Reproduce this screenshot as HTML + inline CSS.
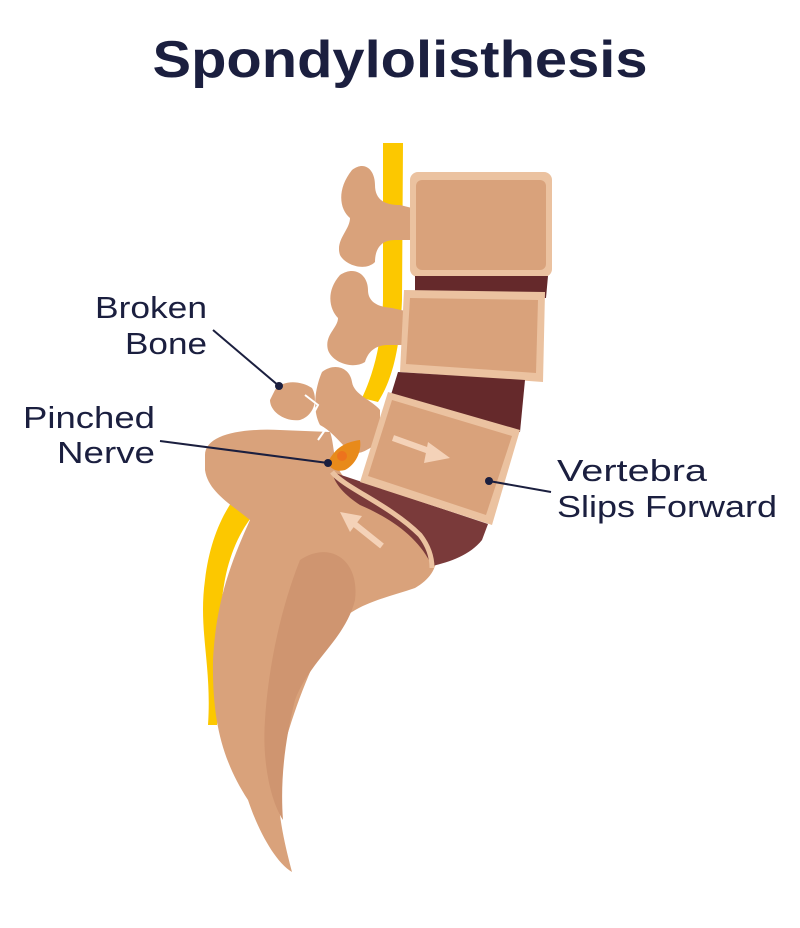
<!DOCTYPE html>
<html><head><meta charset="utf-8"><style>
html,body{margin:0;padding:0;background:#fff;}
svg{display:block;}
text{font-family:"Liberation Sans",sans-serif;fill:#1b1f3f;}
</style></head><body>
<svg width="800" height="928" viewBox="0 0 800 928" xmlns="http://www.w3.org/2000/svg">
<text x="400" y="77" font-size="52" font-weight="bold" text-anchor="middle" textLength="495" lengthAdjust="spacingAndGlyphs">Spondylolisthesis</text>

<!-- lower nerve -->
<path d="M272,468 C240,480 212,520 205,580 C198,630 212,665 208,725 L217,725 C225,670 216,630 224,585 C232,535 258,500 288,488 Z" fill="#fcc800"/>

<!-- sacrum -->
<path d="M205,455 C205,435 240,428 280,430 L330,432 C335,445 332,465 345,478 L430,535 C442,555 438,575 415,588 C380,600 345,605 325,640 C305,680 290,720 278,770 C276,810 285,845 292,872 C275,862 258,830 248,800 C222,760 212,720 213,660 C216,600 232,560 250,520 C232,505 208,492 205,470 Z" fill="#d9a27b"/>
<path d="M300,560 C330,540 360,560 355,600 C345,640 310,660 295,700 C285,740 280,780 283,820 C270,800 262,760 265,720 C268,670 280,610 300,560 Z" fill="#cf9570"/>
<path d="M332,472 L488,524 L482,540 C470,555 450,562 432,566 C420,540 395,520 360,505 C345,495 335,485 332,472 Z" fill="#7a3a3a"/>
<path d="M332,472 C345,488 390,505 420,535 C430,548 432,560 432,568" fill="none" stroke="#ebc2a0" stroke-width="5"/>
<path d="M382,546 L352,522" stroke="#f4d2b8" stroke-width="6"/>
<path d="M340,512 L362,516 L350,532 Z" fill="#f4d2b8"/>

<!-- spinal cord top -->
<path d="M383,143 L403,143 L402,300 C400,350 392,380 378,402 L362,398 C375,370 382,340 383,300 Z" fill="#fcc800"/>

<!-- top vertebra -->
<path d="M352,170 C365,160 375,170 375,185 C375,200 385,205 400,205 L420,210 L420,240 L395,240 C380,240 375,250 375,262 C365,272 345,265 340,255 C335,240 350,230 350,218 C340,210 336,190 352,170 Z" fill="#d9a27b"/>
<rect x="410" y="172" width="142" height="105" rx="8" fill="#ebc2a0"/>
<rect x="416" y="180" width="130" height="90" rx="6" fill="#d9a27b"/>
<path d="M415,276 L548,276 L546,298 L415,294 Z" fill="#65292b"/>
<!-- vertebra 2 -->
<path d="M340,275 C355,265 368,275 368,290 C368,302 378,307 392,308 L410,312 L410,345 L388,345 C375,345 368,352 365,362 C352,370 332,362 328,350 C324,335 338,328 338,318 C330,310 325,292 340,275 Z" fill="#d9a27b"/>
<path d="M404,290 L545,292 L543,382 L400,372 Z" fill="#ebc2a0"/>
<path d="M410,298 L538,300 L536,373 L406,364 Z" fill="#d9a27b"/>
<path d="M398,372 L525,380 L520,432 L390,398 Z" fill="#65292b"/>
<!-- vertebra 3 -->
<path d="M322,372 C335,362 350,368 352,382 C354,395 372,400 380,410 L380,440 C370,450 355,458 348,450 C338,440 330,430 320,425 C312,410 315,388 322,372 Z" fill="#d9a27b"/>
<path d="M388,392 L520,430 L492,525 L360,482 Z" fill="#ebc2a0"/>
<path d="M392,400 L512,436 L486,515 L368,476 Z" fill="#d9a27b"/>
<path d="M393,438 L432,452" stroke="#f4d2b8" stroke-width="6"/>
<path d="M428,442 L450,458 L424,463 Z" fill="#f4d2b8"/>

<!-- pinched nerve -->
<path d="M328,462 C335,448 345,442 360,440 C362,452 355,465 345,470 C338,472 330,470 328,462 Z" fill="#e88a1a"/>
<circle cx="342" cy="456" r="5" fill="#f06a20" opacity="0.7"/>
<!-- broken bone -->
<path d="M275,390 C282,380 300,380 312,388 C318,398 315,415 300,420 C285,422 270,412 270,400 Z" fill="#d9a27b"/>
<path d="M305,395 L318,405 L310,420 L325,430 L318,440" fill="none" stroke="#fff" stroke-width="2"/>

<!-- labels -->
<text x="95" y="318" font-size="31" textLength="112" lengthAdjust="spacingAndGlyphs">Broken</text>
<text x="125" y="354" font-size="31" textLength="82" lengthAdjust="spacingAndGlyphs">Bone</text>
<line x1="213" y1="330" x2="279" y2="386" stroke="#1b1f3f" stroke-width="2"/>
<circle cx="279" cy="386" r="4" fill="#1b1f3f"/>
<text x="23" y="428" font-size="31" textLength="132" lengthAdjust="spacingAndGlyphs">Pinched</text>
<text x="57" y="463" font-size="31" textLength="98" lengthAdjust="spacingAndGlyphs">Nerve</text>
<line x1="160" y1="441" x2="328" y2="463" stroke="#1b1f3f" stroke-width="2"/>
<circle cx="328" cy="463" r="4" fill="#1b1f3f"/>
<text x="557" y="481" font-size="31" textLength="150" lengthAdjust="spacingAndGlyphs">Vertebra</text>
<text x="557" y="517" font-size="31" textLength="220" lengthAdjust="spacingAndGlyphs">Slips Forward</text>
<line x1="489" y1="481" x2="551" y2="492" stroke="#1b1f3f" stroke-width="2"/>
<circle cx="489" cy="481" r="4" fill="#1b1f3f"/>
</svg>
</body></html>
